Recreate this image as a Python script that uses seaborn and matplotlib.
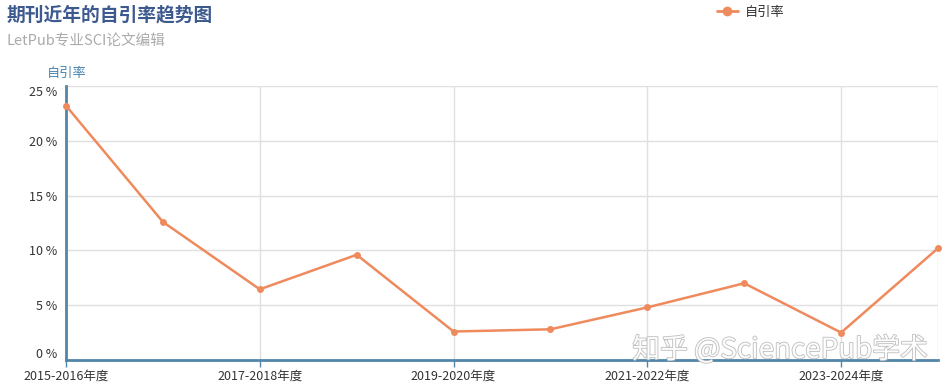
import matplotlib
matplotlib.use("Agg")
import matplotlib.pyplot as plt
import matplotlib.patheffects as pe
import matplotlib.transforms as mtransforms
from matplotlib.lines import Line2D
import seaborn as sns
import pandas as pd

# ---- data ----
years = ["2015-2016年度", "2016-2017年度", "2017-2018年度", "2018-2019年度",
         "2019-2020年度", "2020-2021年度", "2021-2022年度", "2022-2023年度",
         "2023-2024年度", "2024-2025年度"]
self_cite = [23.2, 12.6, 6.45, 9.6, 2.6, 2.8, 4.8, 7.0, 2.5, 10.2]
y_ticks = [0, 5, 10, 15, 20, 25]

title = "期刊近年的自引率趋势图"
subtitle = "LetPub专业SCI论文编辑"
series_name = "自引率"
watermark = "知乎 @SciencePub学术"

sns.set_theme(style="white")
plt.rcParams['font.family'] = ['Noto Sans CJK SC', 'DejaVu Sans']

line_color = "#EF8A5D"
axis_color = "#5185A9"
grid_color = "#E0E0E0"
text_color = "#333333"

df = pd.DataFrame({"idx": range(len(years)), "year": years, "rate": self_cite})

fig = plt.figure(figsize=(9.51, 3.89), dpi=100)
ax = fig.add_axes([66 / 951, 29 / 389, (938 - 66) / 951, (360 - 86) / 389])

sns.lineplot(data=df, x="idx", y="rate", ax=ax, color=line_color, linewidth=1.8,
             marker="o", markersize=5, markeredgewidth=0, zorder=5, clip_on=False)

ax.set_xlim(0, len(years) - 1)
ax.set_ylim(0, 25)

# ticks & grid
ax.set_yticks(y_ticks)
ax.set_yticklabels([f"{v} %" for v in y_ticks], color=text_color, fontsize=9)
label_idx = list(range(0, len(years), 2))
ax.set_xticks(label_idx)
ax.set_xticklabels([years[i] for i in label_idx], color=text_color, fontsize=9)
for v in y_ticks[1:]:
    ax.axhline(v, color=grid_color, linewidth=1, zorder=1)
for i in label_idx[1:] + [len(years) - 1]:
    ax.axvline(i, color=grid_color, linewidth=1, zorder=1)

for s in ["top", "right"]:
    ax.spines[s].set_visible(False)
for s in ["left", "bottom"]:
    ax.spines[s].set_color(axis_color)
    ax.spines[s].set_linewidth(2)
    ax.spines[s].set_zorder(3)

ax.tick_params(axis="x", length=5, width=1, color=axis_color, pad=2, bottom=True)
ax.tick_params(axis="y", length=0, pad=6, left=False)
ax.set_xlabel("")
ax.set_ylabel("")

# edge y labels pulled inward, as in the reference
ylabels = ax.get_yticklabels()
ylabels[0].set_transform(ylabels[0].get_transform() +
                         mtransforms.ScaledTranslation(0, 7 / 100, fig.dpi_scale_trans))
ylabels[-1].set_transform(ylabels[-1].get_transform() +
                          mtransforms.ScaledTranslation(0, -5 / 100, fig.dpi_scale_trans))

# y-axis name
fig.text(67 / 951, 1 - 73 / 389, series_name, color="#4A86B0", fontsize=9.5,
         ha="center", va="center")

# title & subtitle
fig.text(7 / 951, 1 - 15 / 389, title, color="#3D5A8E", fontsize=13.5,
         fontweight="bold", ha="left", va="center")
fig.text(7 / 951, 1 - 41 / 389, subtitle, color="#AAAAAA", fontsize=10.5,
         ha="left", va="center")

# legend
handle = Line2D([], [], color=line_color, linewidth=2, marker="o", markersize=7,
                markeredgewidth=0)
fig.legend(handles=[handle], labels=[series_name], loc="center left",
           bbox_to_anchor=(705 / 951, 1 - 12 / 389), frameon=False, fontsize=9.5,
           handlelength=1.6, handletextpad=0.5, labelcolor=text_color)

# watermark
fig.text(780 / 951, 1 - 350 / 389, watermark, color="white", fontsize=20,
         ha="center", va="center", alpha=0.95, zorder=10,
         path_effects=[pe.withStroke(linewidth=1.2, foreground="#BBBBBB")])

fig.savefig("out.png", dpi=100)
